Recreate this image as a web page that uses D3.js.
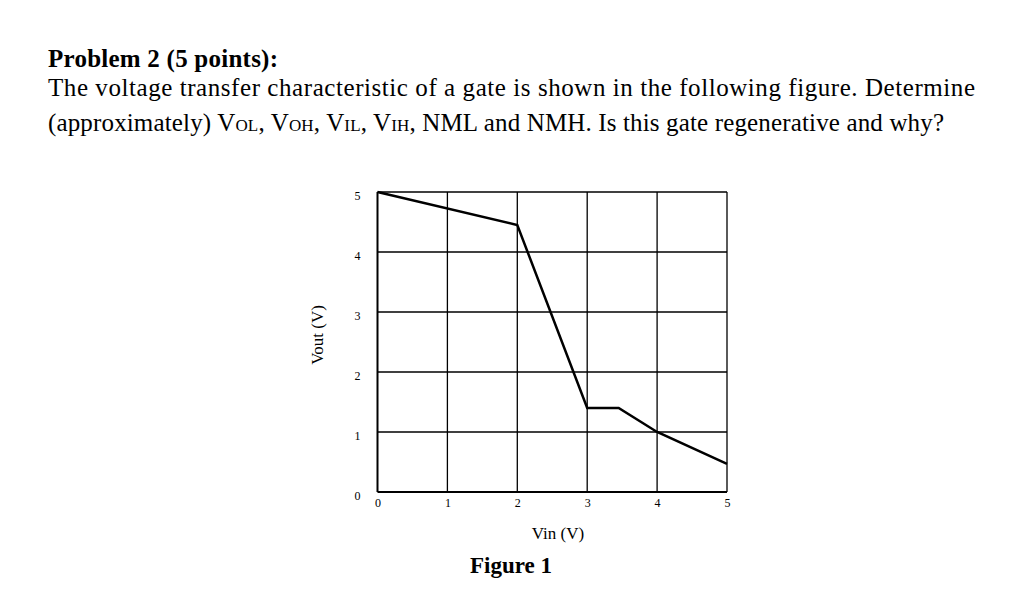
<!DOCTYPE html>
<html><head><meta charset="utf-8">
<script src="https://cdn.jsdelivr.net/npm/d3@7"></script>
<style>body{margin:0;background:#fff}</style></head>
<body><svg id="c" width="1034" height="594"></svg>
<script>
const vin = [0, 2, 3, 3.45, 4, 5];
const vout = [5, 4.45, 1.4, 1.4, 1, 0.47];
const xTicks = [0, 1, 2, 3, 4, 5];
const yTicks = [0, 1, 2, 3, 4, 5];

const svg = d3.select("#c");
const F = "'Liberation Serif','Times New Roman',serif";
const x = d3.scaleLinear().domain([0, 5]).range([377.5, 727]);
const y = d3.scaleLinear().domain([0, 5]).range([492, 192]);

svg.append("text").attr("x", 48).attr("y", 67).attr("font-family", F).attr("font-size", 25).attr("font-weight", "bold")
  .attr("textLength", 230).text("Problem 2 (5 points):");
svg.append("text").attr("x", 48).attr("y", 96).attr("font-family", F).attr("font-size", 25).attr("textLength", 927)
  .text("The voltage transfer characteristic of a gate is shown in the following figure. Determine");
const l3 = svg.append("text").attr("x", 48).attr("y", 131).attr("font-family", F).attr("font-size", 25).attr("textLength", 896);
const parts = [["(approximately) V",0],["OL",1],[", V",0],["OH",1],[", V",0],["IL",1],[", V",0],["IH",1],[", NML and NMH. Is this gate regenerative and why?",0]];
parts.forEach(p => l3.append("tspan").attr("font-size", p[1] ? 17 : 25).text(p[0]));

const g = svg.append("g");
g.selectAll(".vg").data(xTicks).join("line").attr("x1", d => x(d)).attr("x2", d => x(d))
  .attr("y1", y(0)).attr("y2", y(5)).attr("stroke", "#000").attr("stroke-width", d => d === 0 ? 2 : 1.3);
g.selectAll(".hg").data(yTicks).join("line").attr("y1", d => y(d)).attr("y2", d => y(d))
  .attr("x1", x(0)).attr("x2", x(5)).attr("stroke", "#000").attr("stroke-width", d => d === 0 ? 2 : 1.3);

const xa = svg.append("g").attr("transform", `translate(0,${y(0) + 3})`)
  .call(d3.axisBottom(x).tickValues(xTicks).tickSize(0).tickFormat(d3.format("d")));
xa.select(".domain").remove();
xa.selectAll("text").attr("font-family", F).attr("font-size", 12).attr("fill", "#000");
const ya = svg.append("g").attr("transform", `translate(${x(0) - 14},0)`)
  .call(d3.axisLeft(y).tickValues(yTicks).tickSize(0).tickFormat(d3.format("d")));
ya.select(".domain").remove();
ya.selectAll("text").attr("font-family", F).attr("font-size", 12).attr("fill", "#000").attr("dy", "0.6em");

const pts = vin.map((v, i) => [v, vout[i]]);
svg.append("path").datum(pts).attr("fill", "none").attr("stroke", "#000").attr("stroke-width", 2.5)
  .attr("stroke-linejoin", "miter")
  .attr("d", d3.line().x(d => x(d[0])).y(d => y(d[1])));

svg.append("text").attr("x", 558).attr("y", 539).attr("text-anchor", "middle").attr("font-family", F).attr("font-size", 17).text("Vin (V)");
svg.append("text").attr("transform", "translate(323,335) rotate(-90)").attr("text-anchor", "middle").attr("font-family", F).attr("font-size", 17).text("Vout (V)");
svg.append("text").attr("x", 511).attr("y", 573).attr("text-anchor", "middle").attr("font-family", F).attr("font-size", 23).attr("font-weight", "bold").text("Figure 1");
</script></body></html>
